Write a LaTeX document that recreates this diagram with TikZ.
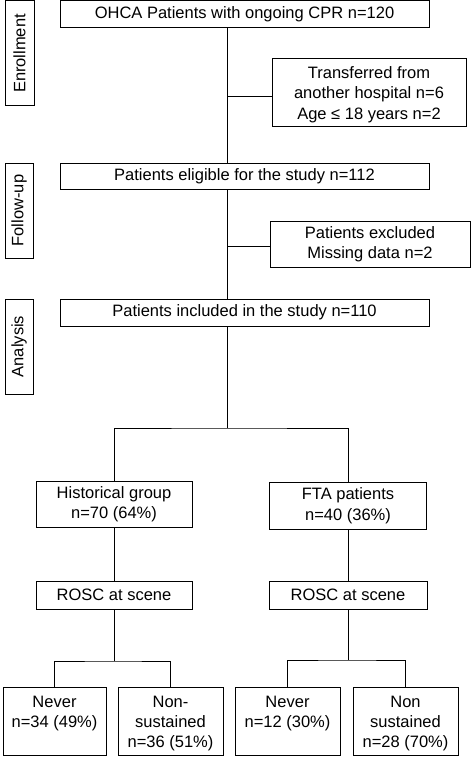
\documentclass[tikz,border=0pt]{standalone}
\usepackage{fontspec}
\setmainfont{Liberation Sans}
\begin{document}
\begin{tikzpicture}[x=1pt,y=-1pt,
  box/.style={draw, line width=1pt, inner sep=0pt, font=\fontsize{16.5}{20.5}\selectfont, align=center},
  txt/.style={inner sep=0pt, font=\fontsize{16.5}{20}\selectfont, align=center, anchor=north},
  conn/.style={line width=1pt}]
\useasboundingbox (0,0) rectangle (472,757);
% side labels
\node[box, minimum width=105, minimum height=29, rotate=90] (enr) at (19.5,53.5) {Enrollment};
\node[box, minimum width=95, minimum height=28, rotate=90] (fol) at (19,210.5) {Follow-up};
\node[box, minimum width=95, minimum height=28, rotate=90] (ana) at (19,346.5) {Analysis};
% main column
\node[box, minimum width=369, minimum height=27] (top) at (244.5,14) {OHCA Patients with ongoing CPR n=120};
\node[box, minimum width=194, minimum height=68, text depth=0pt] (trans) at (369,93) {Transferred from\\another hospital n=6\\Age ≤ 18 years n=2};
\node[box, minimum width=369, minimum height=26] (elig) at (244.5,176) {Patients eligible for the study n=112};
\node[box, minimum width=200, minimum height=46] (excl) at (370,244) {Patients excluded\\Missing data n=2};
\node[box, minimum width=369, minimum height=27] (incl) at (244.5,312.5) {Patients included in the study n=110};
\coordinate (t1) at (227,97);
\coordinate (t2) at (227,246);
\draw[conn] (top.south -| t1) -- (elig.north -| t1);
\draw[conn] (t1) -- (trans.west |- t1);
\draw[conn] (elig.south -| t2) -- (incl.north -| t2);
\draw[conn] (t2) -- (excl.west |- t2);
% groups
\node[box, minimum width=156, minimum height=46] (hist) at (114,504) {Historical group\\n=70 (64\%)};
\node[box, minimum width=157, minimum height=47] (fta) at (348,505.5) {FTA patients\\n=40 (36\%)};
\coordinate (sp) at (227,428);
\draw[conn] (incl.south -| sp) -- (sp);
\draw[conn] (hist.north) |- (sp) -| (fta.north);
\node[box, minimum width=156, minimum height=28] (rosc1) at (114,595) {ROSC at scene};
\node[box, minimum width=158, minimum height=28] (rosc2) at (348,595) {ROSC at scene};
\draw[conn] (hist) -- (rosc1);
\draw[conn] (fta) -- (rosc2);
% outcomes
\node[box, minimum width=103, minimum height=68] (nev1) at (54.5,721) {};
\node[box, minimum width=105, minimum height=68] (non1) at (170.5,721) {};
\node[box, minimum width=105, minimum height=68] (nev2) at (287.5,721) {};
\node[box, minimum width=105, minimum height=68] (non2) at (405.5,721) {};
\node[txt] at ([yshift=-9]nev1.north) {Never\\n=34 (49\%)};
\node[txt] at ([yshift=-9]non1.north) {Non-\\sustained\\n=36 (51\%)};
\node[txt] at ([yshift=-9]nev2.north) {Never\\n=12 (30\%)};
\node[txt] at ([yshift=-9]non2.north) {Non\\sustained\\n=28 (70\%)};
\coordinate (s1) at (114,661);
\coordinate (s2) at (348,660);
\draw[conn] (rosc1) -- (s1);
\draw[conn] (nev1.north) |- (s1) -| (non1.north);
\draw[conn] (rosc2) -- (s2);
\draw[conn] (nev2.north) |- (s2) -| (non2.north);
\end{tikzpicture}
\end{document}
